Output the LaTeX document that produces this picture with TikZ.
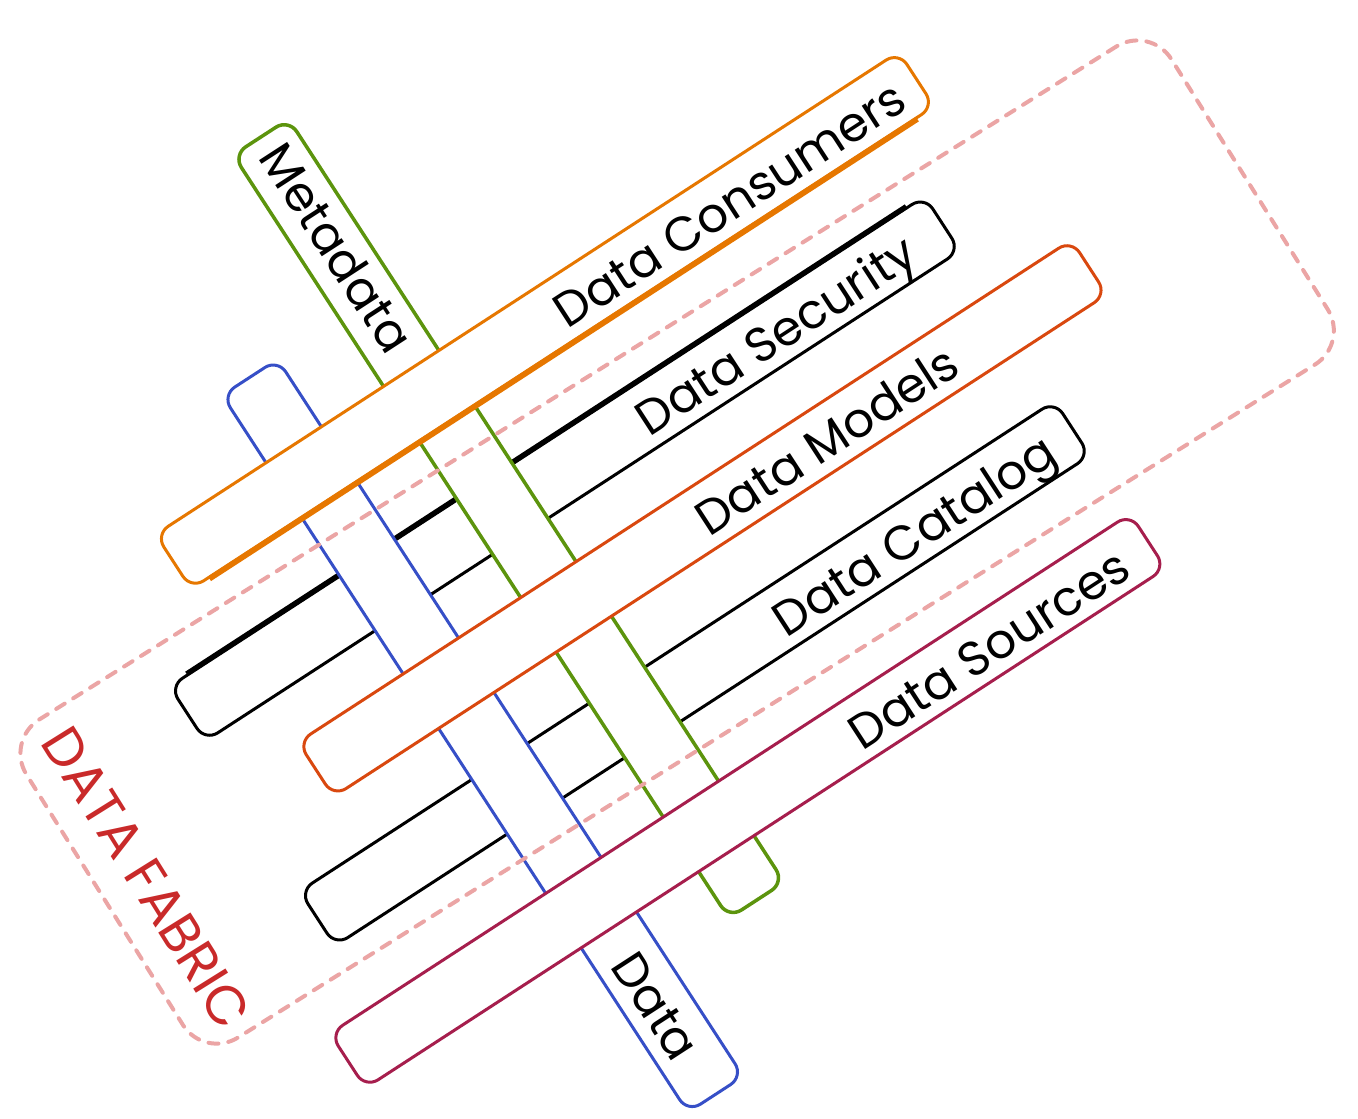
\documentclass[tikz,border=0pt]{standalone}
\usepackage{fontspec}
\setmainfont{Poppins}
\usepackage{tikz}
\usetikzlibrary{positioning,calc}
\definecolor{orangeline}{HTML}{E67700}
\definecolor{redline}{HTML}{D9480F}
\definecolor{crimsonline}{HTML}{A61E4D}
\definecolor{greenline}{HTML}{5C940D}
\definecolor{blueline}{HTML}{364FC7}
\definecolor{fabricred}{HTML}{C92A2A}
\definecolor{fabricpink}{HTML}{EBA5A5}
\tikzset{
  bar/.style   = {rounded corners=3mm, fill=white, line width=0.6mm, inner sep=0pt},
  hbar/.style  = {bar, minimum height=13mm},
  vbar/.style  = {bar, minimum width=13.2mm},
  lbl/.style   = {font=\fontsize{27.5}{32}\selectfont, inner sep=0pt,
                  text height=19pt, text depth=0pt, anchor=west},
  vlbl/.style  = {lbl, rotate=-90},
  fabricbox/.style = {draw=fabricpink, line width=0.8mm, rounded corners=8mm,
                  dash pattern=on 2mm off 2mm, line cap=round, inner sep=0pt},
}

\begin{document}
\begin{tikzpicture}[x=0.2mm, y=0.2mm]
  \useasboundingbox (0,0) rectangle (1358,-1119);
  \begin{scope}[rotate=33, transform shape]
    \node[hbar, draw=black, minimum width=180mm] (security) at (218.5,-700.7) {};
    \draw[line width=1mm] ($(security.north west)!4.5mm!(security.north east)$) -- ($(security.north east)!4.5mm!(security.north west)$);
    \node[hbar, draw=black, minimum width=180mm] (catalog) at (216,-943.2) {};
    \node[vbar, draw=blueline, minimum height=171mm] (data) at (4.1,-880) {};
    \node[vbar, draw=greenline, line width=0.7mm, minimum height=182mm] (metadata) at (144.2,-712) {};
    \node[hbar, draw=orangeline, minimum width=177.2mm] (consumers) at (282.5,-565.5) {};
    \draw[orangeline, line width=1.1mm] ($(consumers.south west)!4.5mm!(consumers.south east)$) -- ($(consumers.south east)!4.5mm!(consumers.south west)$);
    \node[hbar, draw=redline, minimum width=184.4mm] (models) at (306.8,-817.3) {};
    \node[hbar, draw=crimsonline, minimum width=190.8mm] (sources) at (191,-1079) {};

    \node[lbl] (consumers-lbl) at (296,-569) {Data Consumers};
    \node[lbl] (security-lbl) at (306,-704) {Data Security};
    \node[lbl] (models-lbl) at (302,-820) {Data Models};
    \node[lbl] (catalog-lbl) at (312,-947) {Data Catalog};
    \node[lbl] (sources-lbl) at (314,-1083) {Data Sources};
    \node[vlbl] (metadata-lbl) at (147,-272) {Metadata};
    \node[vlbl] (data-lbl) at (2,-1142) {Data};
  \end{scope}
  \begin{scope}[rotate=32, transform shape]
    \node[fabricbox, minimum width=270mm, minimum height=75mm] (fabric) at (287,-818.5) {};
    \node[vlbl, anchor=center, text=fabricred, font=\fontsize{31}{36}\selectfont] (fabric-lbl) at (-343,-822) {DATA FABRIC};
  \end{scope}
\end{tikzpicture}
\end{document}
